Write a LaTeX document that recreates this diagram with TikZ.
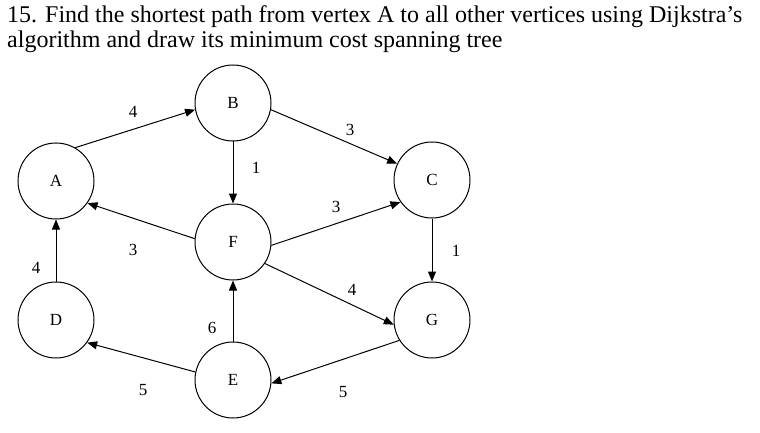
\documentclass[tikz,border=0pt]{standalone}
\usepackage{fontspec}
\setmainfont{Liberation Serif}
\usetikzlibrary{arrows.meta}
\begin{document}
\begin{tikzpicture}[x=1pt,y=-1pt,
 v/.style={circle,draw,line width=1pt,minimum size=76pt,inner sep=0pt,font=\fontsize{17}{19}\selectfont},
 e/.style={line width=1pt,-{Triangle[length=10pt,width=8pt]}},
 w/.style={font=\fontsize{17}{19}\selectfont}]
\useasboundingbox (0,0) rectangle (760,433);
\node[anchor=north west,align=left,font=\fontsize{24}{25.5}\selectfont,inner sep=0pt] (t) at (7,5) {15. Find the shortest path from vertex A to all other vertices using Dijkstra's\\algorithm and draw its minimum cost spanning tree};
\node[v] (A) at (56,181) {A};
\node[v] (B) at (233,103) {B};
\node[v] (C) at (432,180) {C};
\node[v] (F) at (233,242) {F};
\node[v] (D) at (56,320) {D};
\node[v] (G) at (432,320) {G};
\node[v] (E) at (233,380) {E};
\draw[e] (A.60) -- (B.190);
\draw[e] (B.-10) -- (C.155);
\draw[e] (B) -- (F);
\draw[e] (F.175) -- (A.-35);
\draw[e] (F.-5) -- (C.215);
\draw[e] (C) -- (G);
\draw[e] (F.-34) -- (G.187);
\draw[e] (D) -- (A);
\draw[e] (E) -- (F);
\draw[e] (E.168) -- (D.-36);
\draw[e] (G.212) -- (E.-5);
\node[w] (l1) at (133,112) {4};
\node[w] (l2) at (350,130) {3};
\node[w] (l3) at (256,168) {1};
\node[w] (l4) at (133,250) {3};
\node[w] (l5) at (336,207) {3};
\node[w] (l6) at (456,251) {1};
\node[w] (l7) at (352,290) {4};
\node[w] (l8) at (36,268) {4};
\node[w] (l9) at (212,328) {6};
\node[w] (l10) at (143,390) {5};
\node[w] (l11) at (343,392) {5};
\end{tikzpicture}
\end{document}
